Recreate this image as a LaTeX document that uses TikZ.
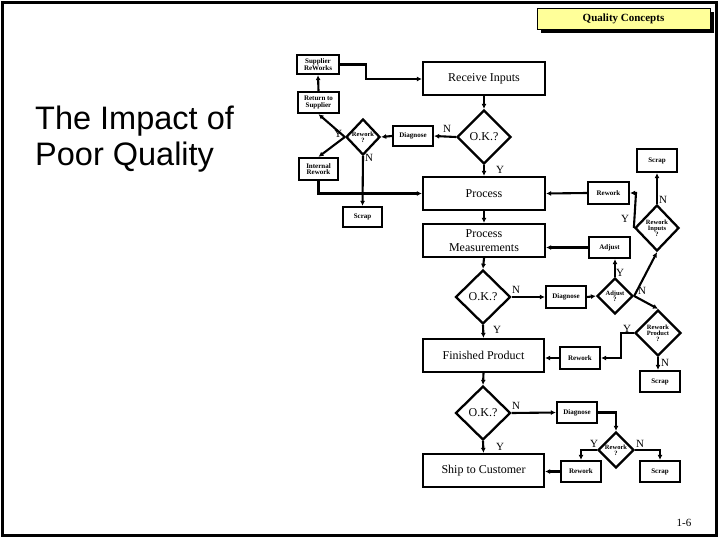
\documentclass[tikz,border=0pt]{standalone}
\usepackage{fontspec}
\setmainfont{Liberation Serif}
\newfontfamily\sansf{Liberation Sans}
\usetikzlibrary{shapes.geometric,arrows.meta}
\begin{document}
\begin{tikzpicture}[x=1pt,y=-1pt,
  bx/.style={draw,line width=2.3pt,inner sep=0pt,align=center},
  sm/.style={bx,font=\fontsize{7}{6.5}\selectfont\bfseries},
  bg/.style={bx,font=\fontsize{12}{14}\selectfont},
  dm/.style={draw,diamond,line width=2.3pt,inner sep=0pt,align=center},
  lb/.style={font=\fontsize{11}{11}\selectfont,inner sep=0pt},
  ar/.style={line width=2.1pt,-{Latex[length=5pt,width=5pt]}},
  ln/.style={line width=2.1pt}]
\useasboundingbox (0,0) rectangle (721,541);
\draw[line width=3pt] (2,2) rectangle (716,535);
\fill (541,12) rectangle (714,33);
\node[draw,line width=1pt,fill={rgb,255:red,255;green,255;blue,153},minimum width=173pt,minimum height=21pt,inner sep=0pt,font=\fontsize{11}{11}\selectfont\bfseries] (title) at (623.5,19) {Quality Concepts};
\node[anchor=north west,align=left,font=\sansf\fontsize{32.5}{36}\selectfont,inner sep=0pt] (head) at (35,106) {The Impact of\\Poor Quality};
\node[font=\fontsize{11}{11}\selectfont] (pg) at (684,523) {1-6};
% boxes
\node[sm,minimum width=42pt,minimum height=19pt] (sup) at (318,64.5) {Supplier\\ReWorks};
\node[sm,minimum width=41pt,minimum height=21pt] (ret) at (318.5,102.5) {Return to\\Supplier};
\node[bg,minimum width=122pt,minimum height=33pt] (rec) at (484,78.5) {Receive Inputs};
\node[dm,minimum width=34pt,minimum height=36pt,font=\fontsize{6.5}{6}\selectfont\bfseries] (rw1) at (363,137) {Rework\\?};
\node[sm,minimum width=40pt,minimum height=20pt] (dg1) at (413,136) {Diagnose};
\node[dm,minimum width=54pt,minimum height=54pt,font=\fontsize{12}{12}\selectfont] (ok1) at (484,137) {O.K.?};
\node[sm,minimum width=39pt,minimum height=22pt] (int) at (318.5,169) {Internal\\Rework};
\node[bg,minimum width=122pt,minimum height=33pt] (proc) at (484,193.5) {Process};
\node[sm,minimum width=39pt,minimum height=20pt] (sc1) at (362.5,217) {Scrap};
\node[bg,minimum width=122pt,minimum height=33pt] (pm) at (484,240.5) {Process\\Measurements};
\node[sm,minimum width=41pt,minimum height=22pt] (rwk1) at (608.5,193) {Rework};
\node[sm,minimum width=40pt,minimum height=23pt] (sc2) at (657,160.5) {Scrap};
\node[dm,minimum width=44pt,minimum height=46pt,font=\fontsize{6.5}{6}\selectfont\bfseries] (rwi) at (657,228) {Rework\\Inputs\\?};
\node[sm,minimum width=41pt,minimum height=21pt] (adj) at (609.5,247.5) {Adjust};
\node[dm,minimum width=55pt,minimum height=54pt,font=\fontsize{12}{12}\selectfont] (ok2) at (483,297) {O.K.?};
\node[sm,minimum width=40pt,minimum height=22pt] (dg2) at (566,297) {Diagnose};
\node[dm,minimum width=36pt,minimum height=36pt,font=\fontsize{6.5}{6}\selectfont\bfseries] (adq) at (615,296) {Adjust\\?};
\node[dm,minimum width=46pt,minimum height=46pt,font=\fontsize{6.5}{6}\selectfont\bfseries] (rwp) at (658,333) {Rework\\Product\\?};
\node[bg,minimum width=121pt,minimum height=33pt] (fin) at (483.5,355.5) {Finished Product};
\node[sm,minimum width=40pt,minimum height=22pt] (rwk2) at (580,358) {Rework};
\node[sm,minimum width=40pt,minimum height=21pt] (sc3) at (660,381.5) {Scrap};
\node[dm,minimum width=55pt,minimum height=54pt,font=\fontsize{12}{12}\selectfont] (ok3) at (483,413) {O.K.?};
\node[sm,minimum width=40pt,minimum height=21pt] (dg3) at (577,412.5) {Diagnose};
\node[dm,minimum width=36pt,minimum height=36pt,font=\fontsize{6.5}{6}\selectfont\bfseries] (rw3) at (616,450) {Rework\\?};
\node[bg,minimum width=121pt,minimum height=33pt] (ship) at (483.5,470.5) {Ship to Customer};
\node[sm,minimum width=40pt,minimum height=21pt] (rwk3) at (581,471.5) {Rework};
\node[sm,minimum width=40pt,minimum height=21pt] (sc4) at (660,471.5) {Scrap};
% connectors
\draw[ar] (sup.east) -| (366,79) -- (rec.west |- 0,79);
\draw[ar] (ret.north) -- (sup.south);
\draw[ar] (rw1.west) -- (ret.south);
\draw[ar] (rw1.west) -- (int.north);
\draw[ar] (rw1.south) -- (sc1.north);
\draw[ar] (int.south) |- (proc.west);
\draw[ar] (dg1.west) -- (rw1.east);
\draw[ar] (ok1.west) -- (dg1.east);
\draw[ar] (rec.south) -- (ok1.north);
\draw[ar] (ok1.south) -- (proc.north);
\draw[ar] (proc.south) -- (pm.north);
\draw[ar] (rwk1.west) -- (proc.east);
\draw[ar] (rwi.west) -- (636,193) -- (rwk1.east);
\draw[ar] (rwi.north) -- (sc2.south);
\draw[ar] (adq.east) -- (rwi.south);
\draw[ar] (adq.north) -- (adq.north |- adj.south);
\draw[ar] (adj.west) -- (pm.east |- adj.west);
\draw[ar] (pm.south) -- (ok2.north);
\draw[ar] (ok2.east) -- (dg2.west);
\draw[ar] (dg2.east) -- (adq.west);
\draw[ar] (adq.east) -- (rwp.north);
\draw[ar] (rwp.west) -- (621,333) -- (621,358) -- (rwk2.east);
\draw[ar] (rwp.south) -- (sc3.north -| rwp.south);
\draw[ar] (rwk2.west) -- (fin.east |- rwk2.west);
\draw[ar] (ok2.south) -- (fin.north);
\draw[ar] (fin.south) -- (ok3.north);
\draw[ar] (ok3.east) -- (dg3.west);
\draw[ar] (dg3.east) -| (rw3.north);
\draw[ar] (rw3.west) -| (rwk3.north);
\draw[ar] (rw3.east) -| (sc4.north);
\draw[ar] (rwk3.west) -- (ship.east |- rwk3.west);
\draw[ar] (ok3.south) -- (ship.north);
% labels
\node[lb] (l1) at (338,134) {Y};
\node[lb] (l2) at (369,158) {N};
\node[lb] (l3) at (447,129) {N};
\node[lb] (l4) at (500,170) {Y};
\node[lb] (l5) at (625,219) {Y};
\node[lb] (l6) at (663,200) {N};
\node[lb] (l7) at (620,273) {Y};
\node[lb] (l8) at (642,291) {N};
\node[lb] (l9) at (516,290) {N};
\node[lb] (l10) at (627,329) {Y};
\node[lb] (l11) at (665,363) {N};
\node[lb] (l12) at (497,330) {Y};
\node[lb] (l13) at (516,406) {N};
\node[lb] (l14) at (594,444) {Y};
\node[lb] (l15) at (640,444) {N};
\node[lb] (l16) at (500,447) {Y};
\end{tikzpicture}
\end{document}
